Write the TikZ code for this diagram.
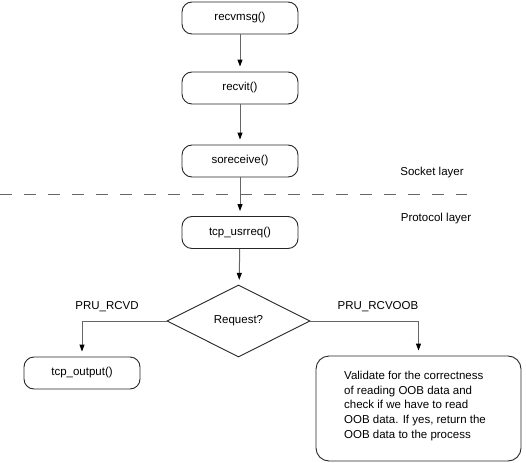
\documentclass[tikz,border=0pt]{standalone}
\usepackage{fontspec}
\setmainfont{Liberation Sans}
\usetikzlibrary{arrows.meta,shapes.geometric}
\begin{document}
\begin{tikzpicture}[x=1pt,y=-1pt,
  proc/.style={draw=black!85,line width=0.9pt,rounded corners=10pt,minimum width=116pt,minimum height=32pt,inner sep=0pt,font=\fontsize{11.5}{14}\selectfont},
  conn/.style={draw=black!60,line width=1pt,-{Triangle[length=7pt,width=5pt,color=black]},shorten >=5pt},
  lbl/.style={font=\fontsize{11.5}{14}\selectfont,inner sep=0pt}]
\useasboundingbox (0,0) rectangle (526,462);
\node[proc] (recvmsg) at (240,18) {recvmsg()};
\node[proc] (recvit) at (240,88) {recvit()};
\node[proc] (soreceive) at (240,161) {soreceive()};
\node[proc] (usrreq) at (240,232.5) {tcp\_usrreq()};
\node[draw=black!85,line width=0.9pt,diamond,aspect=2,minimum width=143pt,minimum height=72pt,inner sep=0pt,font=\fontsize{11.5}{14}\selectfont] (req) at (238.5,321) {};
\node[lbl] at (238.5,321) {Request?};
\node[proc] (out) at (82,373) {tcp\_output()};
\node[draw=black!85,line width=0.9pt,rounded corners=13pt,minimum width=205pt,minimum height=105pt,inner sep=0pt] (oob) at (418.5,408.5) {};
\node[lbl,anchor=north west,align=left,font=\fontsize{11.5}{14.7}\selectfont] (oobtext) at (344,371) {Validate for the correctness\\of reading OOB data and\\check if we have to read\\OOB data. If yes, return the\\OOB data to the process};
\node[lbl] (sock) at (432,173) {Socket layer};
\node[lbl] (prot) at (436,219) {Protocol layer};
\node[lbl] (rcvd) at (107,307) {PRU\_RCVD};
\node[lbl] (rcvoob) at (378,307) {PRU\_RCVOOB};
\coordinate (dl) at (0,194);
\coordinate (dr) at (467,194);
\draw[draw=black!60,line width=1pt,dash pattern=on 12pt off 12pt] (dl) -- (dr);
\draw[conn] (recvmsg) -- (recvit);
\draw[conn] (recvit) -- (soreceive);
\draw[conn] (soreceive) -- (usrreq);
\draw[conn] (usrreq) -- (req);
\draw[conn] (req.west) -| (out.north);
\draw[conn] (req.east) -| (oob.north);
\end{tikzpicture}
\end{document}
